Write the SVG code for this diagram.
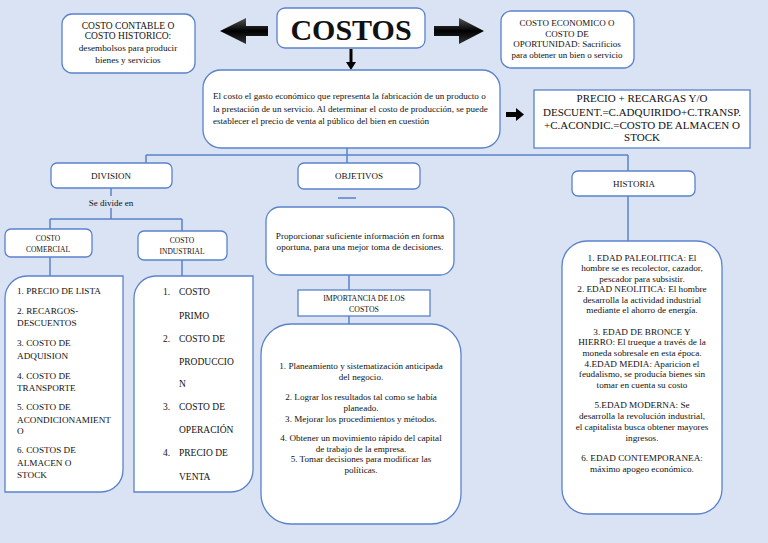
<svg xmlns="http://www.w3.org/2000/svg" width="768" height="543" viewBox="0 0 768 543" font-family="'Liberation Serif', 'Times New Roman', Times, 'DejaVu Serif', serif">
<defs>
<style>
.bx{fill:#fff;stroke:#5a82cc;stroke-width:1.3}
.ln{fill:none;stroke:#5a82cc;stroke-width:1.5}
text{font-family:'Liberation Serif','Times New Roman',Times,'DejaVu Serif',serif;fill:#111}
.c{text-anchor:middle}
.s9{font-size:9px}
</style>
<linearGradient id="ag" x1="0" y1="0" x2="0" y2="1">
<stop offset="0" stop-color="#555"/>
<stop offset="0.5" stop-color="#000"/>
<stop offset="1" stop-color="#333"/>
</linearGradient>
</defs>
<rect width="768" height="543" fill="#dae3f3"/>

<g id="connectors">
<path class="ln" d="M347 148 V155 M146 155 H628 M146 155 V163 M347 155 V163 M628 155 V171"/>
<path class="ln" d="M111 188 V196 M111 208 V219 M50 219 H182 M50 219 V229 M182 219 V231"/>
<path class="ln" d="M50 257 V276 M182 260 V276"/>
<path class="ln" d="M338 198 H356"/>
<path class="ln" d="M349 275 V290 M349 316 V324"/>
<path class="ln" d="M628 196 V241"/>
<path d="M220 31 L246 18 V26 H268 V36 H246 V44 Z" fill="url(#ag)"/>
<path d="M484 31 L459 18 V26 H434 V36 H459 V44 Z" fill="url(#ag)"/>
<path d="M349.5 49 H352.5 V62 H356 L351 70 L346 62 H349.5 Z" fill="#000"/>
<path d="M506 112 H516 V108 L524 114.5 L516 121 V117 H506 Z" fill="#000"/>
</g>

<g id="costos">
<rect class="bx" x="277" y="8" width="148" height="40" rx="8"/>
<text class="c" x="351" y="40" font-size="30" font-weight="bold">COSTOS</text>
</g>

<g id="contable">
<rect class="bx" x="62" y="14" width="133" height="59" rx="10"/>
<text class="c" x="128" y="29" font-size="9.5">COSTO CONTABLE O</text>
<text class="c" x="128" y="39" font-size="9.5">COSTO HISTORICO:</text>
<text class="c" x="128" y="51" font-size="9.2">desembolsos para producir</text>
<text class="c" x="128" y="63" font-size="9.2">bienes y servicios</text>
</g>

<g id="economico">
<rect class="bx" x="501" y="11" width="133" height="57" rx="10"/>
<text class="c" x="567" y="26" font-size="9">COSTO ECONOMICO O</text>
<text class="c" x="567" y="36.5" font-size="9">COSTO DE</text>
<text class="c" x="567" y="47" font-size="9">OPORTUNIDAD: Sacrificios</text>
<text class="c" x="567" y="58" font-size="9">para obtener un bien o servicio</text>
</g>

<g id="definicion">
<rect class="bx" x="203" y="70" width="297" height="78" rx="18"/>
<text x="213" y="99" font-size="9.1">El costo el gasto económico que representa la fabricación de un producto o</text>
<text x="213" y="112" font-size="9.1">la prestación de un servicio. Al determinar el costo de producción, se puede</text>
<text x="213" y="124" font-size="9.1">establecer el precio de venta al público del bien en cuestión</text>
</g>

<g id="precio">
<rect x="534" y="90" width="216" height="58" fill="#fff" stroke="#5a82cc" stroke-width="1.3"/>
<text class="c" x="642" y="102" font-size="11">PRECIO + RECARGAS Y/O</text>
<text class="c" x="642" y="116" font-size="11">DESCUENT.=C.ADQUIRIDO+C.TRANSP.</text>
<text class="c" x="642" y="128.5" font-size="11">+C.ACONDIC.=COSTO DE ALMACEN O</text>
<text class="c" x="642" y="140.5" font-size="11">STOCK</text>
</g>

<g id="division">
<rect class="bx" x="51" y="163" width="121" height="25" rx="6"/>
<text class="c s9" x="111" y="179">DIVISION</text>
<text class="c s9" x="111" y="206">Se divide en</text>
</g>

<g id="comercial">
<rect class="bx" x="5" y="229" width="87" height="28" rx="6"/>
<text class="c" x="48" y="241" font-size="7.5">COSTO</text>
<text class="c" x="48" y="251.5" font-size="7.5">COMERCIAL</text>
</g>

<g id="industrial">
<rect class="bx" x="138" y="231" width="89" height="29" rx="6"/>
<text class="c" x="182" y="243" font-size="7.5">COSTO</text>
<text class="c" x="182" y="253.5" font-size="7.5">INDUSTRIAL</text>
</g>

<g id="lista-comercial">
<path class="bx" d="M27 276 H123 V470 A22 22 0 0 1 101 492 H5 V298 A22 22 0 0 1 27 276 Z"/>
<g font-size="9.2">
<text x="17" y="294">1. PRECIO DE LISTA</text>
<text x="17" y="314">2. RECARGOS-</text>
<text x="17" y="326">DESCUENTOS</text>
<text x="17" y="346">3. COSTO DE</text>
<text x="17" y="358.5">ADQUISION</text>
<text x="17" y="379">4. COSTO DE</text>
<text x="17" y="391">TRANSPORTE</text>
<text x="17" y="410">5. COSTO DE</text>
<text x="17" y="422.5">ACONDICIONAMIENT</text>
<text x="17" y="434">O</text>
<text x="17" y="453">6. COSTOS DE</text>
<text x="17" y="466">ALMACEN O</text>
<text x="17" y="478">STOCK</text>
</g>
</g>

<g id="lista-industrial">
<path class="bx" d="M156 276 H253 V470 A22 22 0 0 1 231 492 H134 V298 A22 22 0 0 1 156 276 Z"/>
<g font-size="9.5">
<text x="163" y="295">1.</text><text x="179" y="295">COSTO</text>
<text x="179" y="318.5">PRIMO</text>
<text x="163" y="341.5">2.</text><text x="179" y="341.5">COSTO DE</text>
<text x="179" y="365">PRODUCCIO</text>
<text x="179" y="386.5">N</text>
<text x="163" y="410">3.</text><text x="179" y="410">COSTO DE</text>
<text x="179" y="432.5">OPERACIÓN</text>
<text x="163" y="456">4.</text><text x="179" y="456">PRECIO DE</text>
<text x="179" y="480">VENTA</text>
</g>
</g>

<g id="objetivos">
<rect class="bx" x="298" y="163" width="122" height="26" rx="6"/>
<text class="c s9" x="359" y="179">OBJETIVOS</text>
</g>

<g id="proporcionar">
<rect class="bx" x="266" y="207" width="188" height="68" rx="14"/>
<text class="c" x="360" y="239" font-size="9.2">Proporcionar suficiente información en forma</text>
<text class="c" x="360" y="250" font-size="9.2">oportuna, para una mejor toma de decisiones.</text>
</g>

<g id="importancia">
<rect x="298" y="290" width="132" height="26" fill="#fff" stroke="#5a82cc" stroke-width="1.3"/>
<text class="c" x="364" y="301" font-size="7.8">IMPORTANCIA DE LOS</text>
<text class="c" x="364" y="312" font-size="7.8">COSTOS</text>
</g>

<g id="lista-importancia">
<rect class="bx" x="261" y="324" width="200" height="200" rx="30"/>
<g font-size="9.1" text-anchor="middle">
<text x="361" y="369">1. Planeamiento y sistematización anticipada</text>
<text x="361" y="380">del negocio.</text>
<text x="361" y="400">2. Lograr los resultados tal como se había</text>
<text x="361" y="410.5">planeado.</text>
<text x="361" y="422">3. Mejorar los procedimientos y métodos.</text>
<text x="361" y="441">4. Obtener un movimiento rápido del capital</text>
<text x="361" y="451.5">de trabajo de la empresa.</text>
<text x="361" y="462">5. Tomar decisiones para modificar las</text>
<text x="361" y="473">políticas.</text>
</g>
</g>

<g id="historia">
<rect class="bx" x="572" y="171" width="123" height="25" rx="6"/>
<text class="c s9" x="634" y="187">HISTORIA</text>
</g>

<g id="lista-historia">
<rect class="bx" x="562" y="241" width="160" height="273" rx="25"/>
<g font-size="9.2" text-anchor="middle">
<text x="642" y="261">1. EDAD PALEOLITICA: El</text>
<text x="642" y="271">hombre se es recolector, cazador,</text>
<text x="642" y="281.5">pescador para subsistir.</text>
<text x="642" y="291.5">2. EDAD NEOLITICA: El hombre</text>
<text x="642" y="302.5">desarrolla la actividad industrial</text>
<text x="642" y="313">mediante el ahorro de energía.</text>
<text x="642" y="335">3. EDAD DE BRONCE Y</text>
<text x="642" y="345">HIERRO: El trueque a través de la</text>
<text x="642" y="355.5">moneda sobresale en esta época.</text>
<text x="642" y="366.5">4.EDAD MEDIA: Aparicion el</text>
<text x="642" y="377">feudalismo, se producía bienes sin</text>
<text x="642" y="387.5">tomar en cuenta su costo</text>
<text x="642" y="408">5.EDAD MODERNA: Se</text>
<text x="642" y="419">desarrolla la revolución industrial,</text>
<text x="642" y="430">el capitalista busca obtener mayores</text>
<text x="642" y="440.5">ingresos.</text>
<text x="642" y="461">6. EDAD CONTEMPORANEA:</text>
<text x="642" y="471.5">máximo apogeo económico.</text>
</g>
</g>
</svg>
